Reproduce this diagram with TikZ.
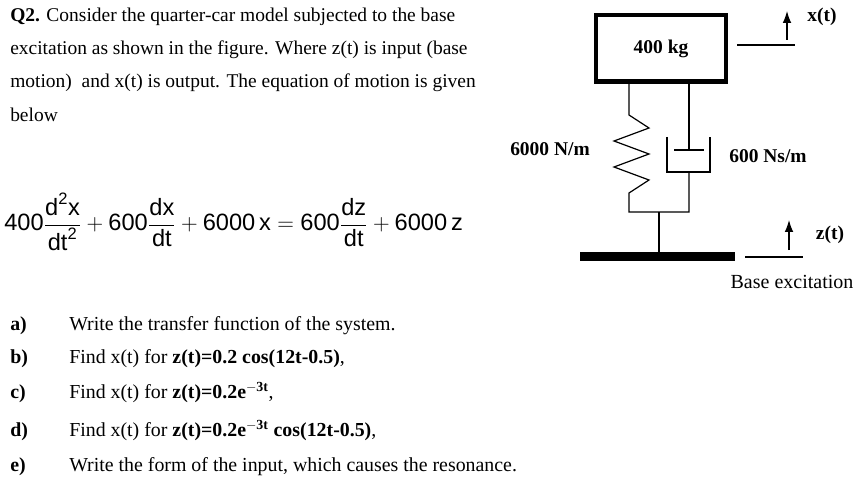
\documentclass[tikz,border=0pt]{standalone}
\usepackage{amsmath}
\usepackage{fontspec}
\usetikzlibrary{arrows.meta}
\setmainfont{Liberation Serif}
\setsansfont{Liberation Sans}
\newcommand\T[1]{\text{\sffamily #1}}
\begin{document}
\begin{tikzpicture}[x=0.75pt,y=-0.75pt,
  txt/.style={anchor=base west,inner sep=0pt,font=\fontsize{14.6}{16}\selectfont},
  itx/.style={anchor=base west,inner sep=0pt,font=\fontsize{14.9}{16}\selectfont},
  bl/.style={inner sep=0pt,font=\bfseries\fontsize{14.6}{16}\selectfont},
  ln/.style={line width=0.9pt},
  ar/.style={ln,-{Latex[length=9pt,width=6.5pt]}}]
\useasboundingbox (0,0) rectangle (857,481);
% text
\node[txt] (l1) at (10,22) {\textbf{Q2.} Consider the quarter-car model subjected to the base};
\node[txt] (l2) at (10,55) {excitation as shown in the figure. Where z(t) is input (base};
\node[txt] (l3) at (10,88) {motion) \ and x(t) is output. The equation of motion is given};
\node[txt] (l4) at (10,122) {below};
\node[anchor=west,inner sep=0pt,font=\fontsize{17.7}{20}\selectfont] (eq) at (4,222)
 {$\T{400}\dfrac{\T{d}^{\T{2}}\T{x}}{\T{dt}^{\T{2}}}+\T{600}\dfrac{\T{dx}}{\T{dt}}+\T{6000\,x}=\T{600}\dfrac{\T{dz}}{\T{dt}}+\T{6000\,z}$};
\foreach \l/\t/\y in {a/Write the transfer function of the system./330,
  b/{Find x(t) for \textbf{z(t)=0.2 cos(12t-0.5)},}/363,
  c/{Find x(t) for \textbf{z(t)=0.2e\textsuperscript{$-$3t}},}/398,
  d/{Find x(t) for \textbf{z(t)=0.2e\textsuperscript{$-$3t} cos(12t-0.5)},}/436,
  e/{Write the form of the input, which causes the resonance.}/471}{
  \node[itx] (i\l) at (10,\y) {\textbf{\l)}};
  \node[itx] (t\l) at (69,\y) {\t};
}
% mechanics
\node[draw,line width=3.5pt,minimum width=97.5pt,minimum height=50pt,bl] (m) at (661,48.5) {400 kg};
\draw[ln] (737,45) -- (795,45);
\draw[ar] (787,40) -- (787,11);
\node[bl] (xt) at (822,17) {x(t)};
\draw[ln] (629,84) -- (629,115) -- (649,128) -- (614,141) -- (649,154) -- (614,167) -- (649,180) -- (629,193) -- (629,212) -- (689,212) -- (689,172);
\draw[ln] (689,84) -- (689,150);
\draw[ln] (674,150) -- (704,150);
\draw[ln] (667,137) -- (667,172) -- (710,172) -- (710,137);
\draw[ln] (659,212) -- (659,252);
\fill (580,252) rectangle (735,261);
\draw[ln] (745,257) -- (803,257);
\draw[ar] (789,250) -- (789,220);
\node[bl] (zt) at (830,235) {z(t)};
\node[bl] (k) at (550,149) {6000 N/m};
\node[bl] (c) at (768,156) {600 Ns/m};
\node[inner sep=0pt,font=\fontsize{15}{16}\selectfont] (be) at (792,282) {Base excitation};
\end{tikzpicture}
\end{document}
